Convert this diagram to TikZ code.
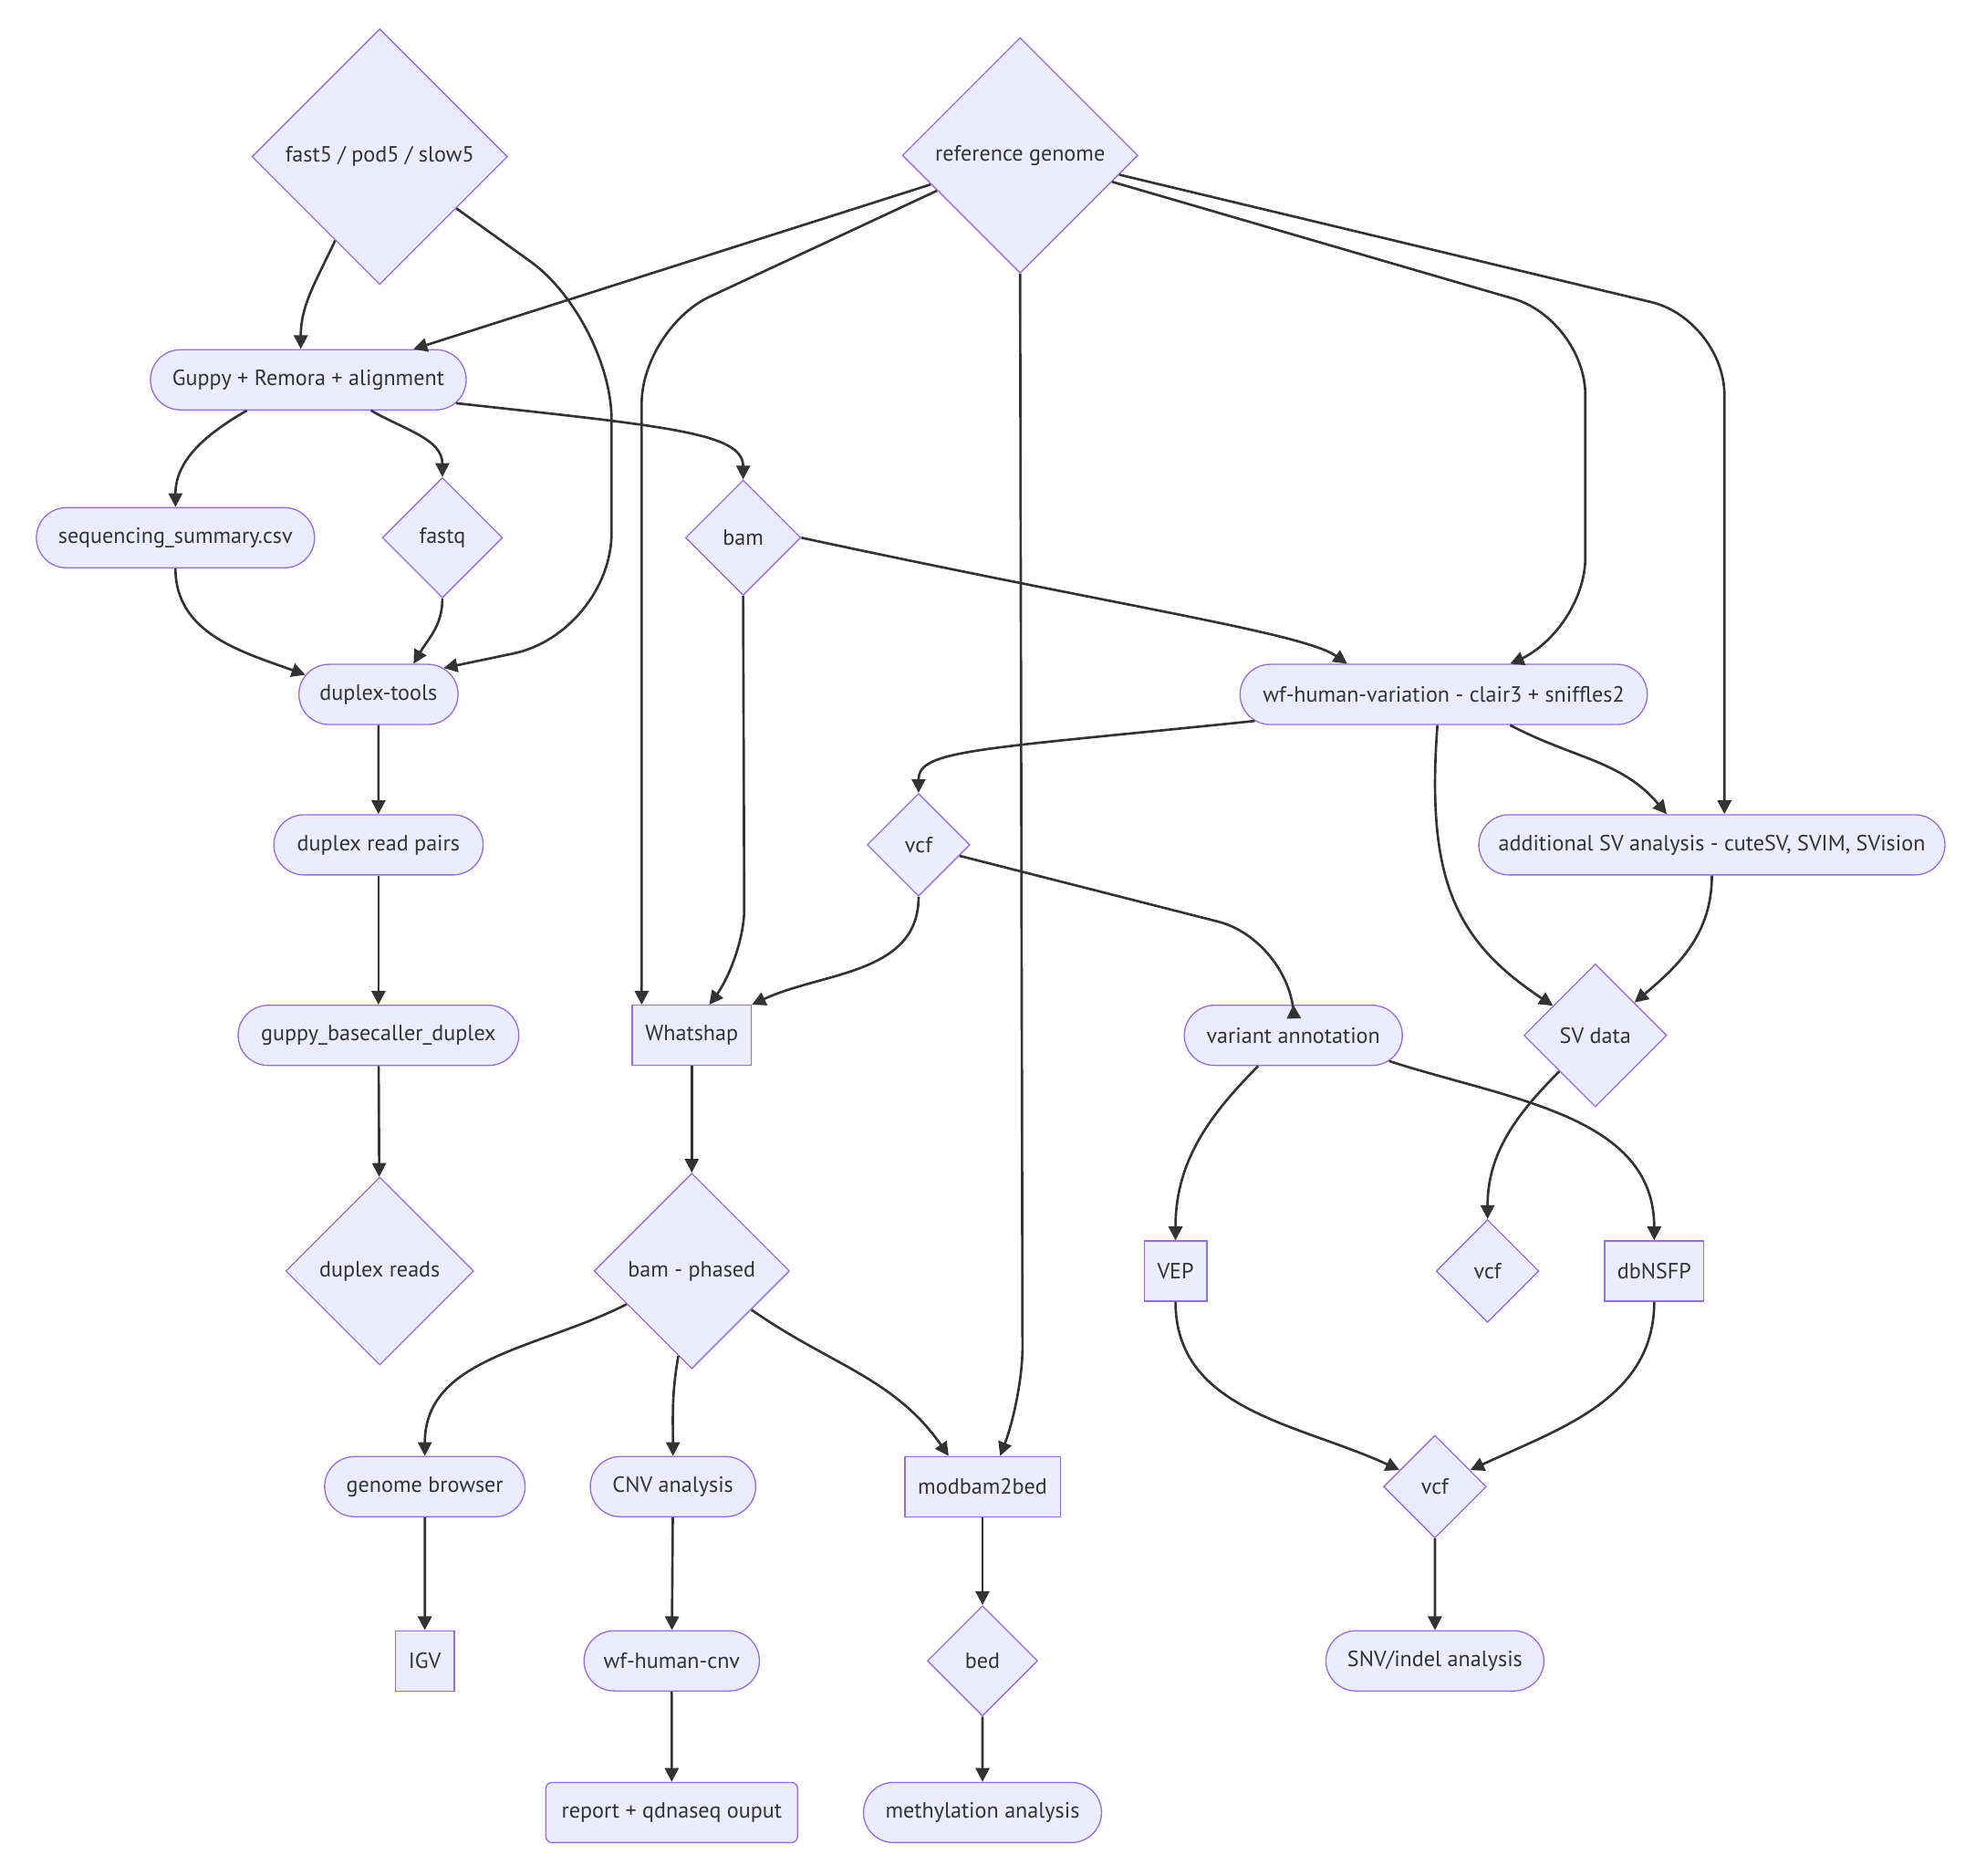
\documentclass[tikz,border=0pt]{standalone}
\usepackage{fontspec}
\setmainfont{PT Sans}
\usetikzlibrary{shapes.geometric,shapes.misc,arrows.meta}
\definecolor{mmfill}{HTML}{ECECFF}
\definecolor{mmstroke}{HTML}{9370DB}
\definecolor{mmedge}{HTML}{333333}
\tikzset{
	box/.style={draw=mmstroke, fill=mmfill, line width=0.55pt, text=mmedge, inner sep=0pt, font=\fontsize{10}{12}\selectfont},
	stadium/.style={box, rounded rectangle, minimum height=0.96cm},
	proc/.style={box, rectangle, minimum height=0.96cm},
	decide/.style={box, diamond, aspect=1},
	edge/.style={draw=mmedge, line width=1.1pt, -{Triangle[length=0.22cm,width=0.22cm]}}
}
\begin{document}
\begin{tikzpicture}[x=0.02cm, y=-0.02cm]
		%%%%% START %%%%%
		\useasboundingbox (0,0) rectangle (1568,1496);
		
		% inputs
		\node[decide, minimum size=4.08cm] (fast5) at (303,125) {fast5 / pod5 / slow5};
		\node[decide, minimum size=3.76cm] (refgen) at (814,124) {reference genome};
		
		% basecalling
		\node[stadium, minimum width=5.04cm] (guppy) at (246,303) {Guppy + Remora + alignment};
		\node[stadium, minimum width=4.44cm] (seqsum) at (140,429) {sequencing\_summary.csv};
		\node[decide, minimum size=1.92cm] (fastq) at (353,429) {fastq};
		\node[decide, minimum size=1.84cm] (bam) at (593,429) {bam};
		
		% duplex
		\node[stadium, minimum width=2.54cm] (duplextools) at (302,554) {duplex-tools};
		\node[stadium, minimum width=3.34cm] (duplexpairs) at (302,674) {duplex read pairs};
		\node[stadium, minimum width=4.48cm] (guppydup) at (302,826) {guppy\_basecaller\_duplex};
		\node[decide, minimum size=3.0cm] (duplexreads) at (303,1014) {duplex reads};
		
		% variation
		\node[stadium, minimum width=6.5cm] (wfhv) at (1152,554) {wf-human-variation - clair3 + sniffles2};
		\node[decide, minimum size=1.64cm] (vcfa) at (733,674) {vcf};
		\node[stadium, minimum width=7.44cm] (addsv) at (1366,674) {additional SV analysis - cuteSV, SVIM, SVision};
		\node[decide, minimum size=2.28cm] (svdata) at (1273,826) {SV data};
		\node[stadium, minimum width=3.48cm] (varannot) at (1032,826) {variant annotation};
		\node[decide, minimum size=1.64cm] (vcfb) at (1187,1014) {vcf};
		\node[proc, minimum width=1.0cm] (vep) at (938,1014) {VEP};
		\node[proc, minimum width=1.58cm] (dbnsfp) at (1320,1014) {dbNSFP};
		\node[decide, minimum size=1.64cm] (vcfc) at (1145,1186) {vcf};
		\node[stadium, minimum width=3.48cm] (snv) at (1145,1325) {SNV/indel analysis};
		
		% phasing
		\node[proc, minimum width=1.9cm] (whatshap) at (552,826) {Whatshap};
		\node[decide, minimum size=3.12cm] (bamphased) at (552,1014) {bam - phased};
		\node[stadium, minimum width=3.2cm] (genbrowser) at (339,1186) {genome browser};
		\node[stadium, minimum width=2.64cm] (cnv) at (537,1186) {CNV analysis};
		\node[proc, minimum width=2.48cm] (modbam) at (784,1186) {modbam2bed};
		\node[proc, minimum width=0.94cm] (igv) at (339,1325) {IGV};
		\node[stadium, minimum width=2.8cm] (wfcnv) at (536,1325) {wf-human-cnv};
		\node[decide, minimum size=1.76cm] (bed) at (784,1325) {bed};
		\node[proc, rounded corners=0.1cm, minimum width=4.02cm] (report) at (536,1446) {report + qdnaseq ouput};
		\node[stadium, minimum width=3.8cm] (methyl) at (784,1446) {methylation analysis};
		
		% edges from the inputs
		\draw[edge] (fast5.-118) to[out=-115,in=90] ([xshift=-0.12cm]guppy.north);
		\draw[edge, rounded corners=1.6cm] (fast5.-34) -- (488,255) -- (488,505) -- (duplextools.22);
		\draw[edge] (refgen.-162) -- ([xshift=1.68cm]guppy.north);
		\draw[edge, rounded corners=1.2cm] (refgen.-157) -- (512,262) -- ([xshift=-0.8cm]whatshap.north);
		\draw[edge, rounded corners=0.8cm] (refgen.south) -- (816,1115) -- ([xshift=0.28cm]modbam.north);
		\draw[edge, rounded corners=1.2cm] (refgen.-16) -- (1265,255) -- (1265,505) -- ([xshift=1.06cm]wfhv.north);
		\draw[edge, rounded corners=1.2cm] (refgen.-11) -- (1376,255) -- ([xshift=0.2cm]addsv.north);
		
		% basecalling and duplex
		\draw[edge] ([xshift=-0.98cm]guppy.south) to[out=-150,in=90] (seqsum.north);
		\draw[edge] ([xshift=1.0cm]guppy.south) to[out=-30,in=90] (fastq.north);
		\draw[edge] (guppy.-9) .. controls (530,340) and (593,345) .. (bam.north);
		\draw[edge] (seqsum.south) to[out=-90,in=160] (duplextools.165);
		\draw[edge] (fastq.south) to[out=-90,in=60] ([xshift=0.56cm]duplextools.north);
		\draw[edge] (duplextools) -- (duplexpairs);
		\draw[edge] (duplexpairs) -- (guppydup);
		\draw[edge] (guppydup) -- (duplexreads);
		
		% bam and variation
		\draw[edge, rounded corners=0.8cm] (bam.south) -- (594,765) -- ([xshift=0.28cm]whatshap.north);
		\draw[edge] (bam.east) .. controls (900,485) and (1040,505) .. ([xshift=-1.54cm]wfhv.north);
		\draw[edge] (wfhv.188) .. controls (780,598) and (733,598) .. (vcfa.north);
		\draw[edge] ([xshift=1.06cm]wfhv.south) to[out=-28,in=130] ([xshift=-0.72cm]addsv.north);
		\draw[edge] ([xshift=-0.1cm]wfhv.south) .. controls (1138,700) and (1160,750) .. (svdata.145);
		\draw[edge] (addsv.south) to[out=-90,in=40] (svdata.40);
		\draw[edge] (vcfa.south) to[out=-90,in=25] (whatshap.north east);
		\draw[edge, rounded corners=1.2cm] (vcfa.-15) -- (1030,750) -- (varannot.north);
		\draw[edge] ([xshift=-0.56cm]varannot.south) to[out=-135,in=90] (vep.north);
		\draw[edge] (varannot.-15) to[out=-18,in=90] (dbnsfp.north);
		\draw[edge] (svdata.south west) to[out=-135,in=90] (vcfb.north);
		\draw[edge] (vep.south) to[out=-90,in=155] (vcfc.155);
		\draw[edge] (dbnsfp.south) to[out=-90,in=25] (vcfc.25);
		\draw[edge] (vcfc) -- (snv);
		
		% phased bam
		\draw[edge] (whatshap) -- (bamphased);
		\draw[edge] (bamphased.-153) to[out=-153,in=90] (genbrowser.north);
		\draw[edge] (bamphased.-99) to[out=-100,in=90] (cnv.north);
		\draw[edge] (bamphased.-33) to[out=-35,in=125] ([xshift=-0.54cm]modbam.north);
		\draw[edge] (genbrowser) -- (igv);
		\draw[edge] (cnv) -- (wfcnv);
		\draw[edge] (wfcnv) -- (report);
		\draw[edge] (modbam) -- (bed);
		\draw[edge] (bed) -- (methyl);
		%%%%% END %%%%%
	\end{tikzpicture}
\end{document}
